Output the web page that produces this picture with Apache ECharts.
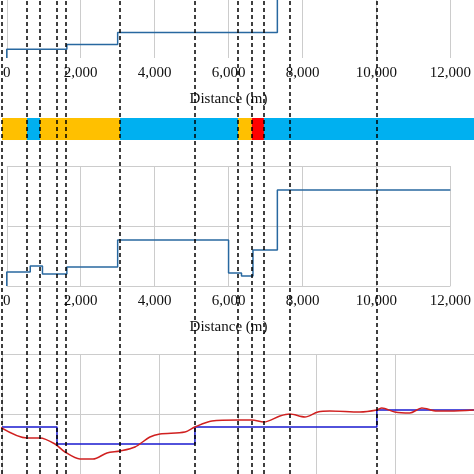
<!DOCTYPE html><html><head><meta charset="utf-8"><script src="https://cdn.jsdelivr.net/npm/echarts@6/dist/echarts.min.js"></script>
<style>html,body{margin:0;padding:0;background:#fff}#c{width:474px;height:474px}</style></head><body><div id="c"></div><script>
const boundaries=[0,635,966,1398,1626,3000,4905,6000,6350,6660,7320,9530];
const xTicks=[0,2000,4000,6000,8000,10000,12000];
const top1=[[0,0],[0,18],[1626,18],[1626,28],[3000,28],[3000,53],[7320,53],[7320,130]];
const mid=[[0,0],[0,14],[635,14],[635,20],[966,20],[966,12],[1626,12],[1626,19],[3000,19],[3000,46],[6000,46],[6000,13],[6350,13],[6350,10],[6660,10],[6660,36],[7320,36],[7320,96],[12000,96]];
const bands=[[0,635,'#FFC000'],[635,966,'#00B0F0'],[966,3000,'#FFC000'],[3000,6000,'#00B0F0'],[6000,6350,'#FFC000'],[6350,6660,'#FF0000'],[6660,12000,'#00B0F0']];
const blueStep=[[0,47],[1398,47],[1398,30],[4905,30],[4905,47],[9530,47],[9530,64],[12000,64]];
const redPx=[0,27,40,55,65,80,93,107,120,135,150,160,185,195,212,238,252,264,280,290,305,318,330,360,377,382,395,410,422,437,450,474];
const redVal=[47,36,36,30,22,15,15,21,23,27,37,40,42,47,53,54,54,52,58,60,57,62,63,62,64,66,62,61,66,63,63,64];
const red=redPx.map((p,i)=>[Math.round((p-2)/0.03935),redVal[i]]);
const font='Liberation Serif';
function xa(i,show){return {gridIndex:i,type:'value',min:0,max:12000,interval:2000,
 axisLine:{show:false},axisTick:{show:false},
 axisLabel:{show:show,color:'#111',fontFamily:font,fontSize:15,margin:8,showMinLabel:true,showMaxLabel:true},
 splitLine:{show:i!==3&&i!==4,lineStyle:{color:'#ccc',width:1}},
 name:show?'Distance (m)':'',nameLocation:'middle',nameGap:34,nameTextStyle:{color:'#111',fontFamily:font,fontSize:15}};}
function ya(i){return {gridIndex:i,type:'value',min:0,max:120,interval:60,axisLine:{show:false},axisTick:{show:false},axisLabel:{show:false},splitLine:{show:i===1||i===2,lineStyle:{color:'#ccc'}}};}
const L=2,R=0;
const chart=echarts.init(document.getElementById('c'));
chart.setOption({animation:false,
 grid:[{left:L,right:R,top:-62,height:120},{left:L,right:R,top:166,height:120},{left:L,right:R,top:354,height:120},{left:L,right:R,top:118,height:22},{left:L,right:R,top:0,bottom:0}],
 xAxis:[xa(0,true),xa(1,true),xa(2,false),xa(3,false),xa(4,false)],
 yAxis:[ya(0),ya(1),ya(2),ya(3),ya(4)],
 series:[
  {type:'line',xAxisIndex:0,yAxisIndex:0,data:top1,symbol:'none',lineStyle:{color:'#2868a0',width:1.5}},
  {type:'line',xAxisIndex:1,yAxisIndex:1,data:mid,symbol:'none',lineStyle:{color:'#2868a0',width:1.5}},
  {type:'line',xAxisIndex:2,yAxisIndex:2,data:blueStep,symbol:'none',lineStyle:{color:'#1a1ad0',width:1.5},z:3},
  {type:'line',xAxisIndex:2,yAxisIndex:2,data:red,symbol:'none',smooth:0.3,lineStyle:{color:'#d02020',width:1.5},z:4},
  {type:'line',xAxisIndex:3,yAxisIndex:3,data:[],markArea:{silent:true,data:bands.map(b=>[{xAxis:b[0],itemStyle:{color:b[2]}},{xAxis:b[1]}])}},
  {type:'line',xAxisIndex:4,yAxisIndex:4,data:[],z:10,markLine:{silent:true,symbol:'none',label:{show:false},lineStyle:{color:'#000',type:[4,3],width:1.5},data:boundaries.map(b=>({xAxis:b}))}}
 ]});
</script></body></html>
